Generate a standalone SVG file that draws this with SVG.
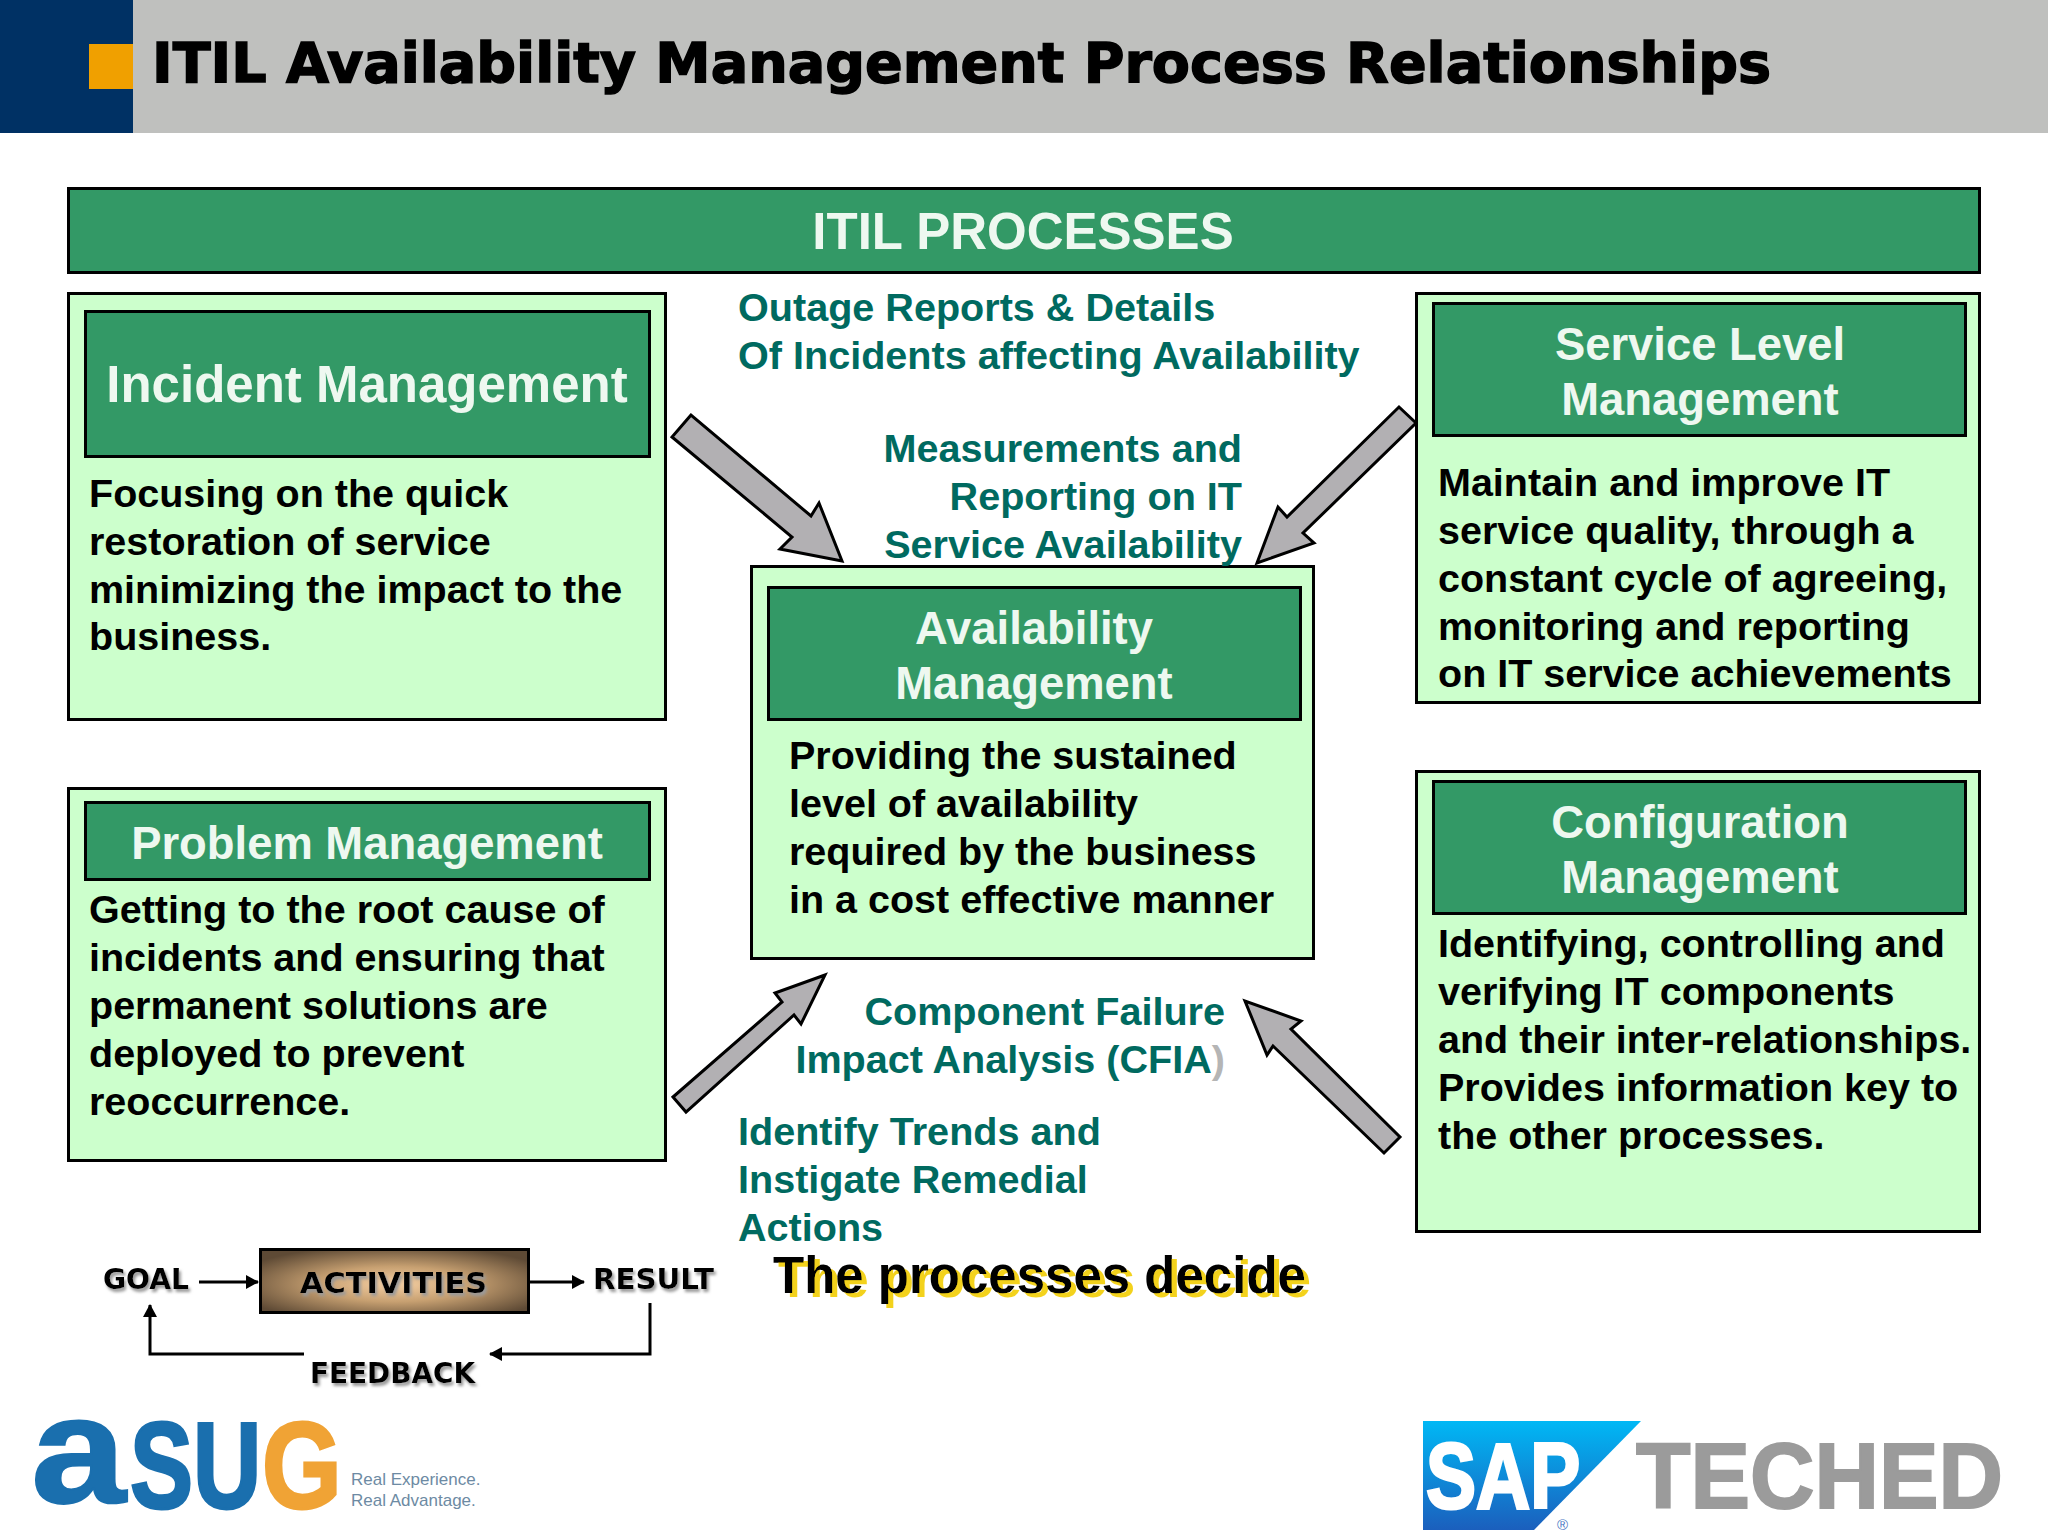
<svg xmlns="http://www.w3.org/2000/svg" width="2048" height="1536" viewBox="0 0 2048 1536">
<style>
text{font-family:"Liberation Sans",Arial,sans-serif;font-weight:700}
.box{fill:#ccffcc;stroke:#000;stroke-width:3}
.head{fill:#339966;stroke:#000;stroke-width:3}
.ht{fill:#eef8f0;font-size:45.4px;text-anchor:middle}
.big{font-size:51px}
.body{fill:#000;font-size:39.500px}
.teal{fill:#006a60;font-size:39.600px}
.end{text-anchor:end}
.arrow{fill:#b2b0b3;stroke:#000;stroke-width:3;stroke-linejoin:miter}
.flow{fill:none;stroke:#000;stroke-width:3}
.lab{font-family:"DejaVu Sans",sans-serif;font-size:28px;fill:#000;filter:url(#sh)}
</style>
<defs>
<filter id="sh" x="-20%" y="-30%" width="140%" height="170%"><feDropShadow dx="2" dy="3" stdDeviation="1.5" flood-color="#999"/></filter>
<filter id="yel" x="-5%" y="-20%" width="110%" height="150%"><feDropShadow dx="5" dy="4" stdDeviation="0.6" flood-color="#f3d21a"/></filter>
<radialGradient id="act" cx="0.5" cy="0.55" r="0.62"><stop offset="0" stop-color="#f6d0a4"/><stop offset="0.45" stop-color="#c7a071"/><stop offset="1" stop-color="#5e4a35"/></radialGradient>
<linearGradient id="sap" x1="0" y1="0" x2="0" y2="1"><stop offset="0" stop-color="#00b8f5"/><stop offset="1" stop-color="#1b5fbd"/></linearGradient>
<marker id="ah" markerWidth="15" markerHeight="16" refX="12" refY="7" orient="auto" markerUnits="userSpaceOnUse"><path d="M0 0L13 7L0 14z" fill="#000"/></marker>
</defs>
<rect width="2048" height="1536" fill="#fff"/>
<g id="title">
<rect x="133" width="1915" height="133" fill="#bfc0be"/>
<rect width="133" height="133" fill="#003164"/>
<rect x="89" y="44" width="44" height="45" fill="#f0a000"/>
<text x="152" y="82" font-size="56" fill="#000" stroke="#000" stroke-width="1.500" textLength="1619" lengthAdjust="spacingAndGlyphs" style="font-family:'DejaVu Sans',sans-serif">ITIL Availability Management Process Relationships</text>
</g>
<g id="itil-processes">
<rect class="head" x="68.500" y="188.500" width="1911" height="84"/>
<text class="ht big" x="1023" y="249">ITIL PROCESSES</text>
</g>
<g id="incident">
<rect class="box" x="68.500" y="293.500" width="597" height="426"/>
<rect class="head" x="85.500" y="311.500" width="564" height="145"/>
<text class="ht big" x="367" y="402">Incident Management</text>
<text class="body" x="89" y="507">Focusing on the quick</text>
<text class="body" x="89" y="555">restoration of service</text>
<text class="body" x="89" y="603">minimizing the impact to the</text>
<text class="body" x="89" y="650">business.</text>
</g>
<g id="service-level">
<rect class="box" x="1416.500" y="293.500" width="563" height="409"/>
<rect class="head" x="1433.500" y="303.500" width="532" height="132"/>
<text class="ht" x="1700" y="360">Service Level</text>
<text class="ht" x="1700" y="415">Management</text>
<text class="body" x="1438" y="496">Maintain and improve IT</text>
<text class="body" x="1438" y="544">service quality, through a</text>
<text class="body" x="1438" y="592">constant cycle of agreeing,</text>
<text class="body" x="1438" y="640">monitoring and reporting</text>
<text class="body" x="1438" y="687">on IT service achievements</text>
</g>
<g id="availability">
<rect class="box" x="751.500" y="566.500" width="562" height="392"/>
<rect class="head" x="768.500" y="587.500" width="532" height="132"/>
<text class="ht" x="1034" y="644">Availability</text>
<text class="ht" x="1034" y="699">Management</text>
<text class="body" x="789" y="769">Providing the sustained</text>
<text class="body" x="789" y="817">level of availability</text>
<text class="body" x="789" y="865">required by the business</text>
<text class="body" x="789" y="913">in a cost effective manner</text>
</g>
<g id="problem">
<rect class="box" x="68.500" y="788.500" width="597" height="372"/>
<rect class="head" x="85.500" y="802.500" width="564" height="77"/>
<text class="ht" x="367" y="859">Problem Management</text>
<text class="body" x="89" y="923">Getting to the root cause of</text>
<text class="body" x="89" y="971">incidents and ensuring that</text>
<text class="body" x="89" y="1019">permanent solutions are</text>
<text class="body" x="89" y="1067">deployed to prevent</text>
<text class="body" x="89" y="1115">reoccurrence.</text>
</g>
<g id="configuration">
<rect class="box" x="1416.500" y="771.500" width="563" height="460"/>
<rect class="head" x="1433.500" y="781.500" width="532" height="132"/>
<text class="ht" x="1700" y="838">Configuration</text>
<text class="ht" x="1700" y="893">Management</text>
<text class="body" x="1438" y="957">Identifying, controlling and</text>
<text class="body" x="1438" y="1005">verifying IT components</text>
<text class="body" x="1438" y="1053">and their inter-relationships.</text>
<text class="body" x="1438" y="1101">Provides information key to</text>
<text class="body" x="1438" y="1149">the other processes.</text>
</g>
<g id="connectors">
<polygon class="arrow" points="691,415 672,437 792,537 780,549 842,561 819,503 811,516"/>
<polygon class="arrow" points="1399,407 1416,423 1303,533 1314,543 1257,563 1278,507 1287,517"/>
<polygon class="arrow" points="673,1097 686,1112 794,1015 801,1024 825,975 775,993 782,1002"/>
<polygon class="arrow" points="1400,1137 1384,1153 1273,1046 1267,1055 1245,1001 1301,1021 1291,1029"/>
<path class="flow" marker-end="url(#ah)" d="M199 1282H258"/>
<path class="flow" marker-end="url(#ah)" d="M529 1282H584"/>
<path class="flow" marker-end="url(#ah)" d="M650 1303V1354H490"/>
<path class="flow" marker-end="url(#ah)" d="M304 1354H150V1305"/>
</g>
<g id="labels">
<text class="teal" x="738" y="321">Outage Reports &amp; Details</text>
<text class="teal" x="738" y="369">Of Incidents affecting Availability</text>
<text class="teal end" x="1242" y="462">Measurements and</text>
<text class="teal end" x="1242" y="510">Reporting on IT</text>
<text class="teal end" x="1242" y="558">Service Availability</text>
<text class="teal end" x="1225" y="1025">Component Failure</text>
<text class="teal end" x="1225" y="1073">Impact Analysis (CFIA<tspan fill="#b5b5b5">)</tspan></text>
<text class="teal" x="738" y="1145">Identify Trends and</text>
<text class="teal" x="738" y="1193">Instigate Remedial</text>
<text class="teal" x="738" y="1241">Actions</text>
</g>
<g id="decide">
<text x="773" y="1293" font-size="51" fill="#000" filter="url(#yel)">The processes decide</text>
</g>
<g id="goal"><text class="lab" x="103" y="1289" textLength="86" lengthAdjust="spacingAndGlyphs">GOAL</text></g>
<g id="activities">
<rect x="260.500" y="1249.500" width="268" height="63" fill="url(#act)" stroke="#000" stroke-width="3"/>
<text class="lab" x="300" y="1293" textLength="187" lengthAdjust="spacingAndGlyphs">ACTIVITIES</text>
</g>
<g id="result"><text class="lab" x="593" y="1289" textLength="121" lengthAdjust="spacingAndGlyphs">RESULT</text></g>
<g id="feedback"><text class="lab" x="310" y="1383" textLength="165" lengthAdjust="spacingAndGlyphs">FEEDBACK</text></g>
<g id="asug-logo">
<text transform="translate(31,1503) scale(1.4,1.25)" font-size="122" fill="#1a6fae" stroke="#1a6fae" stroke-width="1.500">a</text>
<text transform="translate(130,1508) scale(0.775,1)" font-size="122" fill="#1a6fae" stroke="#1a6fae" stroke-width="3">SU</text>
<text transform="translate(262,1508) scale(0.84,1)" font-size="122" fill="#f0a335" stroke="#f0a335" stroke-width="3">G</text>
<text x="351" y="1485" font-size="17" fill="#6d8aa3" style="font-weight:400">Real Experience.</text>
<text x="351" y="1506" font-size="17" fill="#6d8aa3" style="font-weight:400">Real Advantage.</text>
</g>
<g id="sap-logo">
<polygon points="1423,1421 1641,1421 1534,1530 1423,1530" fill="url(#sap)"/>
<text transform="translate(1426,1508) scale(0.815,1)" font-size="92" fill="#fff" stroke="#fff" stroke-width="3">SAP</text>
<text x="1557" y="1530" font-size="15" fill="#4a78c4" style="font-weight:400">®</text>
<text transform="translate(1636,1508) scale(0.97,1)" font-size="92" fill="#9b9b9b" stroke="#9b9b9b" stroke-width="2">TECHED</text>
</g>
</svg>
